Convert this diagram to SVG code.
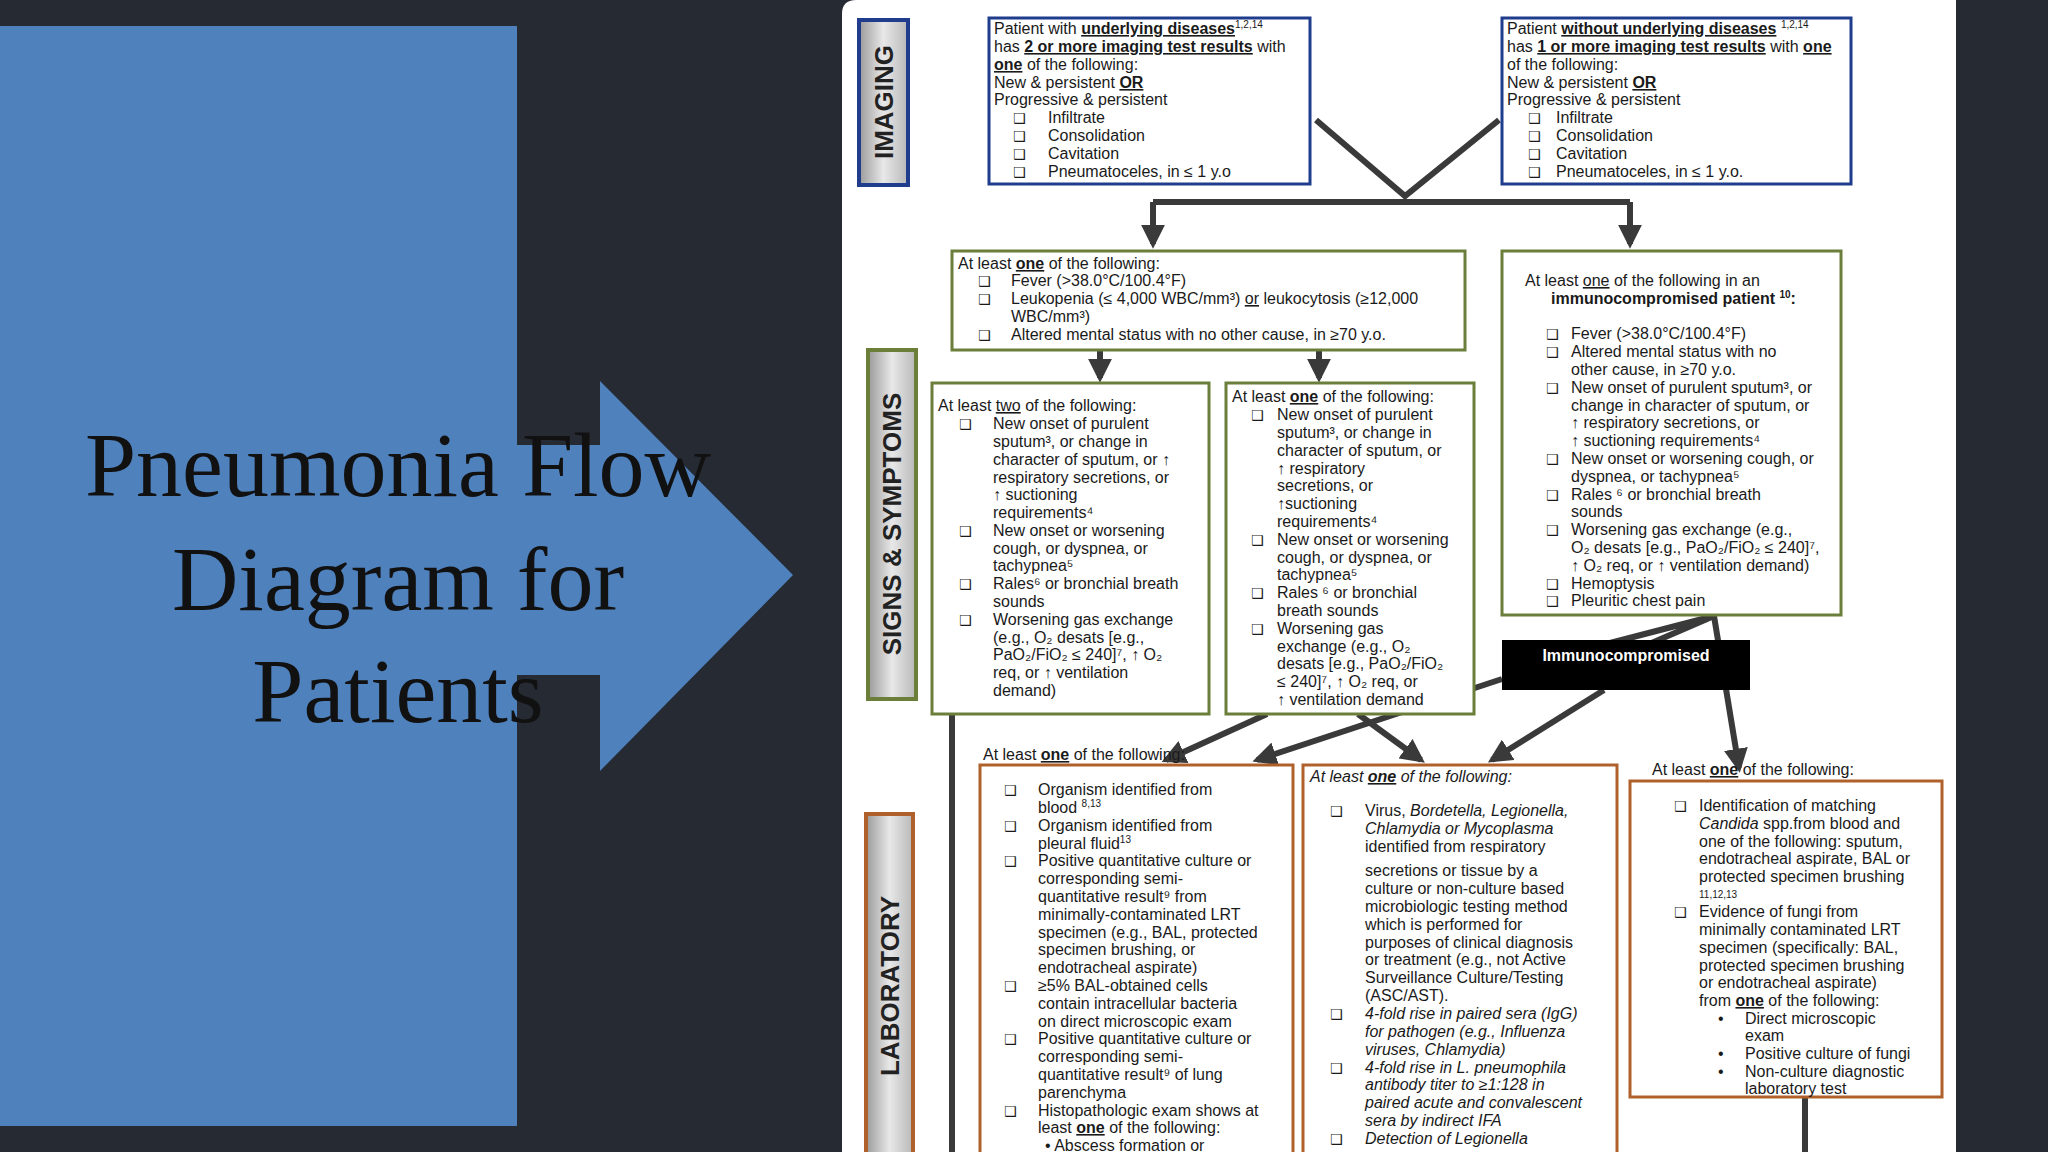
<svg xmlns="http://www.w3.org/2000/svg" width="2048" height="1152" viewBox="0 0 2048 1152">
<style>
.t{font-family:"Liberation Sans",Arial,sans-serif;font-size:16px;fill:#1a1a1a}
.b{font-weight:bold}
.u{text-decoration:underline;font-weight:bold}
.i{font-style:italic}
.s{font-size:10px}
.cb{font-family:"DejaVu Sans",sans-serif;font-size:14px;fill:#1a1a1a}
.side{font-family:"Liberation Sans",Arial,sans-serif;font-weight:bold;font-size:26px;fill:#222}
.nv{fill:#fff;stroke:#1f3d8c;stroke-width:3}
.gr{fill:#fff;stroke:#6b7f3a;stroke-width:3}
.br{fill:#fff;stroke:#b0612b;stroke-width:3}
.ln{stroke:#3a3a3a;stroke-width:6;fill:none}
.title{font-family:"Liberation Serif","Times New Roman",serif;font-size:92px;fill:#111}
</style>
<defs>
<linearGradient id="lg" x1="0" y1="0" x2="1" y2="0"><stop offset="0" stop-color="#9a9a9a"/><stop offset="0.5" stop-color="#e8e8e8"/><stop offset="1" stop-color="#b8b8b8"/></linearGradient>
<marker id="ah" viewBox="0 0 10 10" refX="8" refY="5" markerWidth="4" markerHeight="4" orient="auto"><path d="M0,0 L10,5 L0,10 z" fill="#3a3a3a"/></marker>
</defs>
<rect width="2048" height="1152" fill="#262a33"/>
<g id="left">
<rect x="0" y="26" width="517" height="1100" fill="#4f81bd"/>
<path d="M517,445 L600,445 L600,381 L793,575 L600,771 L600,675 L517,675 z" fill="#4f81bd"/>
<text class="title" text-anchor="middle"><tspan x="398" y="496">Pneumonia Flow</tspan><tspan x="398" y="610">Diagram for</tspan><tspan x="398" y="722">Patients</tspan></text>
</g>
<path d="M856,0 L1956,0 L1956,1152 L842,1152 L842,14 Q842,0 856,0 z" fill="#fff"/>
<g id="labels">
<rect x="859" y="20" width="49" height="165" fill="url(#lg)" stroke="#1f3d8c" stroke-width="4"/>
<text class="side" transform="translate(893,102) rotate(-90)" text-anchor="middle">IMAGING</text>
<rect x="868" y="350" width="48" height="349" fill="url(#lg)" stroke="#6b7f3a" stroke-width="4"/>
<text class="side" transform="translate(901,524) rotate(-90)" text-anchor="middle">SIGNS &amp; SYMPTOMS</text>
<rect x="866" y="814" width="47" height="345" fill="url(#lg)" stroke="#b0612b" stroke-width="4"/>
<text class="side" transform="translate(899,986) rotate(-90)" text-anchor="middle">LABORATORY</text>
</g>
<g id="connectors">
<path class="ln" d="M1316,120 L1405,196 L1499,120"/>
<path class="ln" d="M1153,202 L1630,202"/>
<path class="ln" d="M1153,202 L1153,244" marker-end="url(#ah)"/>
<path class="ln" d="M1630,202 L1630,244" marker-end="url(#ah)"/>
<path class="ln" d="M1100,350 L1100,378" marker-end="url(#ah)"/>
<path class="ln" d="M1319,350 L1319,378" marker-end="url(#ah)"/>
<path class="ln" d="M1714,616 L1560,656 M1714,616 L1640,648"/>
<path class="ln" d="M1714,616 L1739,768" marker-end="url(#ah)"/>
<path class="ln" d="M1502,679 L1257,760" marker-end="url(#ah)"/>
<path class="ln" d="M1604,690 L1492,760" marker-end="url(#ah)"/>
<path class="ln" d="M1267,714 L1166,760" marker-end="url(#ah)"/>
<path class="ln" d="M1358,714 L1421,760" marker-end="url(#ah)"/>
<path class="ln" d="M952,714 L952,1152"/>
<path class="ln" d="M1805,1097 L1805,1152"/>
</g>
<g id="imgA">
<rect class="nv" x="989" y="18" width="321" height="166"/>
<text class="t"><tspan x="994" y="34">Patient with <tspan class="u">underlying diseases</tspan><tspan class="s" dy="-6">1,2,14</tspan></tspan><tspan x="994" y="52">has <tspan class="u">2 or more imaging test results</tspan> with</tspan><tspan x="994" y="70"><tspan class="u">one</tspan> of the following:</tspan><tspan x="994" y="88">New &amp; persistent <tspan class="u">OR</tspan></tspan><tspan x="994" y="105">Progressive &amp; persistent</tspan><tspan x="1048" y="123">Infiltrate</tspan><tspan x="1048" y="141">Consolidation</tspan><tspan x="1048" y="159">Cavitation</tspan><tspan x="1048" y="177">Pneumatoceles, in ≤ 1 y.o</tspan></text>
<text class="cb"><tspan x="1013" y="123">❑</tspan><tspan x="1013" y="141">❑</tspan><tspan x="1013" y="159">❑</tspan><tspan x="1013" y="177">❑</tspan></text>
</g>
<g id="imgB">
<rect class="nv" x="1502" y="18" width="349" height="166"/>
<text class="t"><tspan x="1507" y="34">Patient <tspan class="u">without underlying diseases</tspan> <tspan class="s" dy="-6">1,2,14</tspan></tspan><tspan x="1507" y="52">has <tspan class="u">1 or more imaging test results</tspan> with <tspan class="u">one</tspan></tspan><tspan x="1507" y="70">of the following:</tspan><tspan x="1507" y="88">New &amp; persistent <tspan class="u">OR</tspan></tspan><tspan x="1507" y="105">Progressive &amp; persistent</tspan><tspan x="1556" y="123">Infiltrate</tspan><tspan x="1556" y="141">Consolidation</tspan><tspan x="1556" y="159">Cavitation</tspan><tspan x="1556" y="177">Pneumatoceles, in ≤ 1 y.o.</tspan></text>
<text class="cb"><tspan x="1528" y="123">❑</tspan><tspan x="1528" y="141">❑</tspan><tspan x="1528" y="159">❑</tspan><tspan x="1528" y="177">❑</tspan></text>
</g>
<g id="signsC">
<rect class="gr" x="952" y="251" width="513" height="99"/>
<text class="t"><tspan x="958" y="269">At least <tspan class="u">one</tspan> of the following:</tspan><tspan x="1011" y="286">Fever (&gt;38.0°C/100.4°F)</tspan><tspan x="1011" y="304">Leukopenia (≤ 4,000 WBC/mm³) <tspan text-decoration="underline">or</tspan> leukocytosis (≥12,000</tspan><tspan x="1011" y="322">WBC/mm³)</tspan><tspan x="1011" y="340">Altered mental status with no other cause, in ≥70 y.o.</tspan></text>
<text class="cb"><tspan x="978" y="286">❑</tspan><tspan x="978" y="304">❑</tspan><tspan x="978" y="340">❑</tspan></text>
</g>
<g id="signsD">
<rect class="gr" x="1502" y="251" width="339" height="364"/>
<text class="t"><tspan x="1525" y="286">At least <tspan text-decoration="underline">one</tspan> of the following in an</tspan><tspan x="1551" y="304" class="b">immunocompromised patient <tspan class="s" dy="-6">10</tspan><tspan dy="6">:</tspan></tspan><tspan x="1571" y="339">Fever (&gt;38.0°C/100.4°F)</tspan><tspan x="1571" y="357">Altered mental status with no</tspan><tspan x="1571" y="375">other cause, in ≥70 y.o.</tspan><tspan x="1571" y="393">New onset of purulent sputum³, or</tspan><tspan x="1571" y="411">change in character of sputum, or</tspan><tspan x="1571" y="428">↑ respiratory secretions, or</tspan><tspan x="1571" y="446">↑ suctioning requirements⁴</tspan><tspan x="1571" y="464">New onset or worsening cough, or</tspan><tspan x="1571" y="482">dyspnea, or tachypnea⁵</tspan><tspan x="1571" y="500">Rales ⁶ or bronchial breath</tspan><tspan x="1571" y="517">sounds</tspan><tspan x="1571" y="535">Worsening gas exchange (e.g.,</tspan><tspan x="1571" y="553">O₂ desats [e.g., PaO₂/FiO₂ ≤ 240]⁷,</tspan><tspan x="1571" y="571">↑ O₂ req, or ↑ ventilation demand)</tspan><tspan x="1571" y="589">Hemoptysis</tspan><tspan x="1571" y="606">Pleuritic chest pain</tspan></text>
<text class="cb"><tspan x="1546" y="339">❑</tspan><tspan x="1546" y="357">❑</tspan><tspan x="1546" y="393">❑</tspan><tspan x="1546" y="464">❑</tspan><tspan x="1546" y="500">❑</tspan><tspan x="1546" y="535">❑</tspan><tspan x="1546" y="589">❑</tspan><tspan x="1546" y="606">❑</tspan></text>
</g>
<g id="signsE">
<rect class="gr" x="932" y="383" width="277" height="331"/>
<text class="t"><tspan x="938" y="411">At least <tspan text-decoration="underline">two</tspan> of the following:</tspan><tspan x="993" y="429">New onset of purulent</tspan><tspan x="993" y="447">sputum³, or change in</tspan><tspan x="993" y="465">character of sputum, or ↑</tspan><tspan x="993" y="483">respiratory secretions, or</tspan><tspan x="993" y="500">↑ suctioning</tspan><tspan x="993" y="518">requirements⁴</tspan><tspan x="993" y="536">New onset or worsening</tspan><tspan x="993" y="554">cough, or dyspnea, or</tspan><tspan x="993" y="571">tachypnea⁵</tspan><tspan x="993" y="589">Rales⁶ or bronchial breath</tspan><tspan x="993" y="607">sounds</tspan><tspan x="993" y="625">Worsening gas exchange</tspan><tspan x="993" y="643">(e.g., O₂ desats [e.g.,</tspan><tspan x="993" y="660">PaO₂/FiO₂ ≤ 240]⁷, ↑ O₂</tspan><tspan x="993" y="678">req, or ↑ ventilation</tspan><tspan x="993" y="696">demand)</tspan></text>
<text class="cb"><tspan x="959" y="429">❑</tspan><tspan x="959" y="536">❑</tspan><tspan x="959" y="589">❑</tspan><tspan x="959" y="625">❑</tspan></text>
</g>
<g id="signsF">
<rect class="gr" x="1226" y="383" width="248" height="331"/>
<text class="t"><tspan x="1232" y="402">At least <tspan class="u">one</tspan> of the following:</tspan><tspan x="1277" y="420">New onset of purulent</tspan><tspan x="1277" y="438">sputum³, or change in</tspan><tspan x="1277" y="456">character of sputum, or</tspan><tspan x="1277" y="474">↑ respiratory</tspan><tspan x="1277" y="491">secretions, or</tspan><tspan x="1277" y="509">↑suctioning</tspan><tspan x="1277" y="527">requirements⁴</tspan><tspan x="1277" y="545">New onset or worsening</tspan><tspan x="1277" y="563">cough, or dyspnea, or</tspan><tspan x="1277" y="580">tachypnea⁵</tspan><tspan x="1277" y="598">Rales ⁶ or bronchial</tspan><tspan x="1277" y="616">breath sounds</tspan><tspan x="1277" y="634">Worsening gas</tspan><tspan x="1277" y="652">exchange (e.g., O₂</tspan><tspan x="1277" y="669">desats [e.g., PaO₂/FiO₂</tspan><tspan x="1277" y="687">≤ 240]⁷, ↑ O₂ req, or</tspan><tspan x="1277" y="705">↑ ventilation demand</tspan></text>
<text class="cb"><tspan x="1251" y="420">❑</tspan><tspan x="1251" y="545">❑</tspan><tspan x="1251" y="598">❑</tspan><tspan x="1251" y="634">❑</tspan></text>
</g>
<g id="immuno">
<rect x="1502" y="640" width="248" height="50" fill="#000"/>
<text class="t b" x="1626" y="661" text-anchor="middle" style="fill:#fff">Immunocompromised</text>
</g>
<g id="labG">
<text class="t" x="983" y="760">At least <tspan class="u">one</tspan> of the following:</text>
<rect class="br" x="980" y="765" width="313" height="400"/>
<text class="t"><tspan x="1038" y="795">Organism identified from</tspan><tspan x="1038" y="813">blood <tspan class="s" dy="-6">8,13</tspan></tspan><tspan x="1038" y="831">Organism identified from</tspan><tspan x="1038" y="849">pleural fluid<tspan class="s" dy="-6">13</tspan></tspan><tspan x="1038" y="866">Positive quantitative culture or</tspan><tspan x="1038" y="884">corresponding semi-</tspan><tspan x="1038" y="902">quantitative result⁹ from</tspan><tspan x="1038" y="920">minimally-contaminated LRT</tspan><tspan x="1038" y="938">specimen (e.g., BAL, protected</tspan><tspan x="1038" y="955">specimen brushing, or</tspan><tspan x="1038" y="973">endotracheal aspirate)</tspan><tspan x="1038" y="991">≥5% BAL-obtained cells</tspan><tspan x="1038" y="1009">contain intracellular bacteria</tspan><tspan x="1038" y="1027">on direct microscopic exam</tspan><tspan x="1038" y="1044">Positive quantitative culture or</tspan><tspan x="1038" y="1062">corresponding semi-</tspan><tspan x="1038" y="1080">quantitative result⁹ of lung</tspan><tspan x="1038" y="1098">parenchyma</tspan><tspan x="1038" y="1116">Histopathologic exam shows at</tspan><tspan x="1038" y="1133">least <tspan class="u">one</tspan> of the following:</tspan><tspan x="1045" y="1151">• Abscess formation or</tspan></text>
<text class="cb"><tspan x="1004" y="795">❑</tspan><tspan x="1004" y="831">❑</tspan><tspan x="1004" y="866">❑</tspan><tspan x="1004" y="991">❑</tspan><tspan x="1004" y="1044">❑</tspan><tspan x="1004" y="1116">❑</tspan></text>
</g>
<g id="labH">
<rect class="br" x="1303" y="765" width="314" height="400"/>
<text class="t"><tspan x="1310" y="782" class="i">At least <tspan class="u">one</tspan> of the following:</tspan><tspan x="1365" y="816">Virus, <tspan class="i">Bordetella, Legionella,</tspan></tspan><tspan x="1365" y="834" class="i">Chlamydia or Mycoplasma</tspan><tspan x="1365" y="852">identified from respiratory</tspan><tspan x="1365" y="876">secretions or tissue  by a</tspan><tspan x="1365" y="894">culture or non-culture based</tspan><tspan x="1365" y="912">microbiologic testing method</tspan><tspan x="1365" y="930">which is performed for</tspan><tspan x="1365" y="948">purposes of clinical diagnosis</tspan><tspan x="1365" y="965">or treatment (e.g., not Active</tspan><tspan x="1365" y="983">Surveillance Culture/Testing</tspan><tspan x="1365" y="1001">(ASC/AST).</tspan><tspan x="1365" y="1019" class="i">4-fold rise in paired sera (IgG)</tspan><tspan x="1365" y="1037" class="i">for pathogen (e.g., Influenza</tspan><tspan x="1365" y="1055" class="i">viruses, Chlamydia)</tspan><tspan x="1365" y="1073" class="i">4-fold rise in L. pneumophila</tspan><tspan x="1365" y="1090" class="i">antibody titer to ≥1:128 in</tspan><tspan x="1365" y="1108" class="i">paired acute and convalescent</tspan><tspan x="1365" y="1126" class="i">sera by indirect IFA</tspan><tspan x="1365" y="1144" class="i">Detection of Legionella</tspan></text>
<text class="cb"><tspan x="1330" y="816">❑</tspan><tspan x="1330" y="1019">❑</tspan><tspan x="1330" y="1073">❑</tspan><tspan x="1330" y="1144">❑</tspan></text>
</g>
<g id="labI">
<text class="t" x="1652" y="775">At least <tspan class="u">one</tspan> of the following:</text>
<rect class="br" x="1630" y="781" width="312" height="316"/>
<text class="t"><tspan x="1699" y="811">Identification of matching</tspan><tspan x="1699" y="829"><tspan class="i">Candida</tspan> spp.from blood and</tspan><tspan x="1699" y="847">one of the following: sputum,</tspan><tspan x="1699" y="864">endotracheal aspirate, BAL or</tspan><tspan x="1699" y="882">protected specimen brushing</tspan><tspan x="1699" y="898" class="s">11,12,13</tspan><tspan x="1699" y="917">Evidence of fungi from</tspan><tspan x="1699" y="935">minimally contaminated LRT</tspan><tspan x="1699" y="953">specimen (specifically: BAL,</tspan><tspan x="1699" y="971">protected specimen brushing</tspan><tspan x="1699" y="988">or endotracheal aspirate)</tspan><tspan x="1699" y="1006">from <tspan class="u">one</tspan> of the following:</tspan><tspan x="1718" y="1024">•</tspan><tspan x="1745" y="1024">Direct microscopic</tspan><tspan x="1745" y="1041">exam</tspan><tspan x="1718" y="1059">•</tspan><tspan x="1745" y="1059">Positive culture of fungi</tspan><tspan x="1718" y="1077">•</tspan><tspan x="1745" y="1077">Non-culture diagnostic</tspan><tspan x="1745" y="1094">laboratory test</tspan></text>
<text class="cb"><tspan x="1674" y="811">❑</tspan><tspan x="1674" y="917">❑</tspan></text>
</g>
</svg>
